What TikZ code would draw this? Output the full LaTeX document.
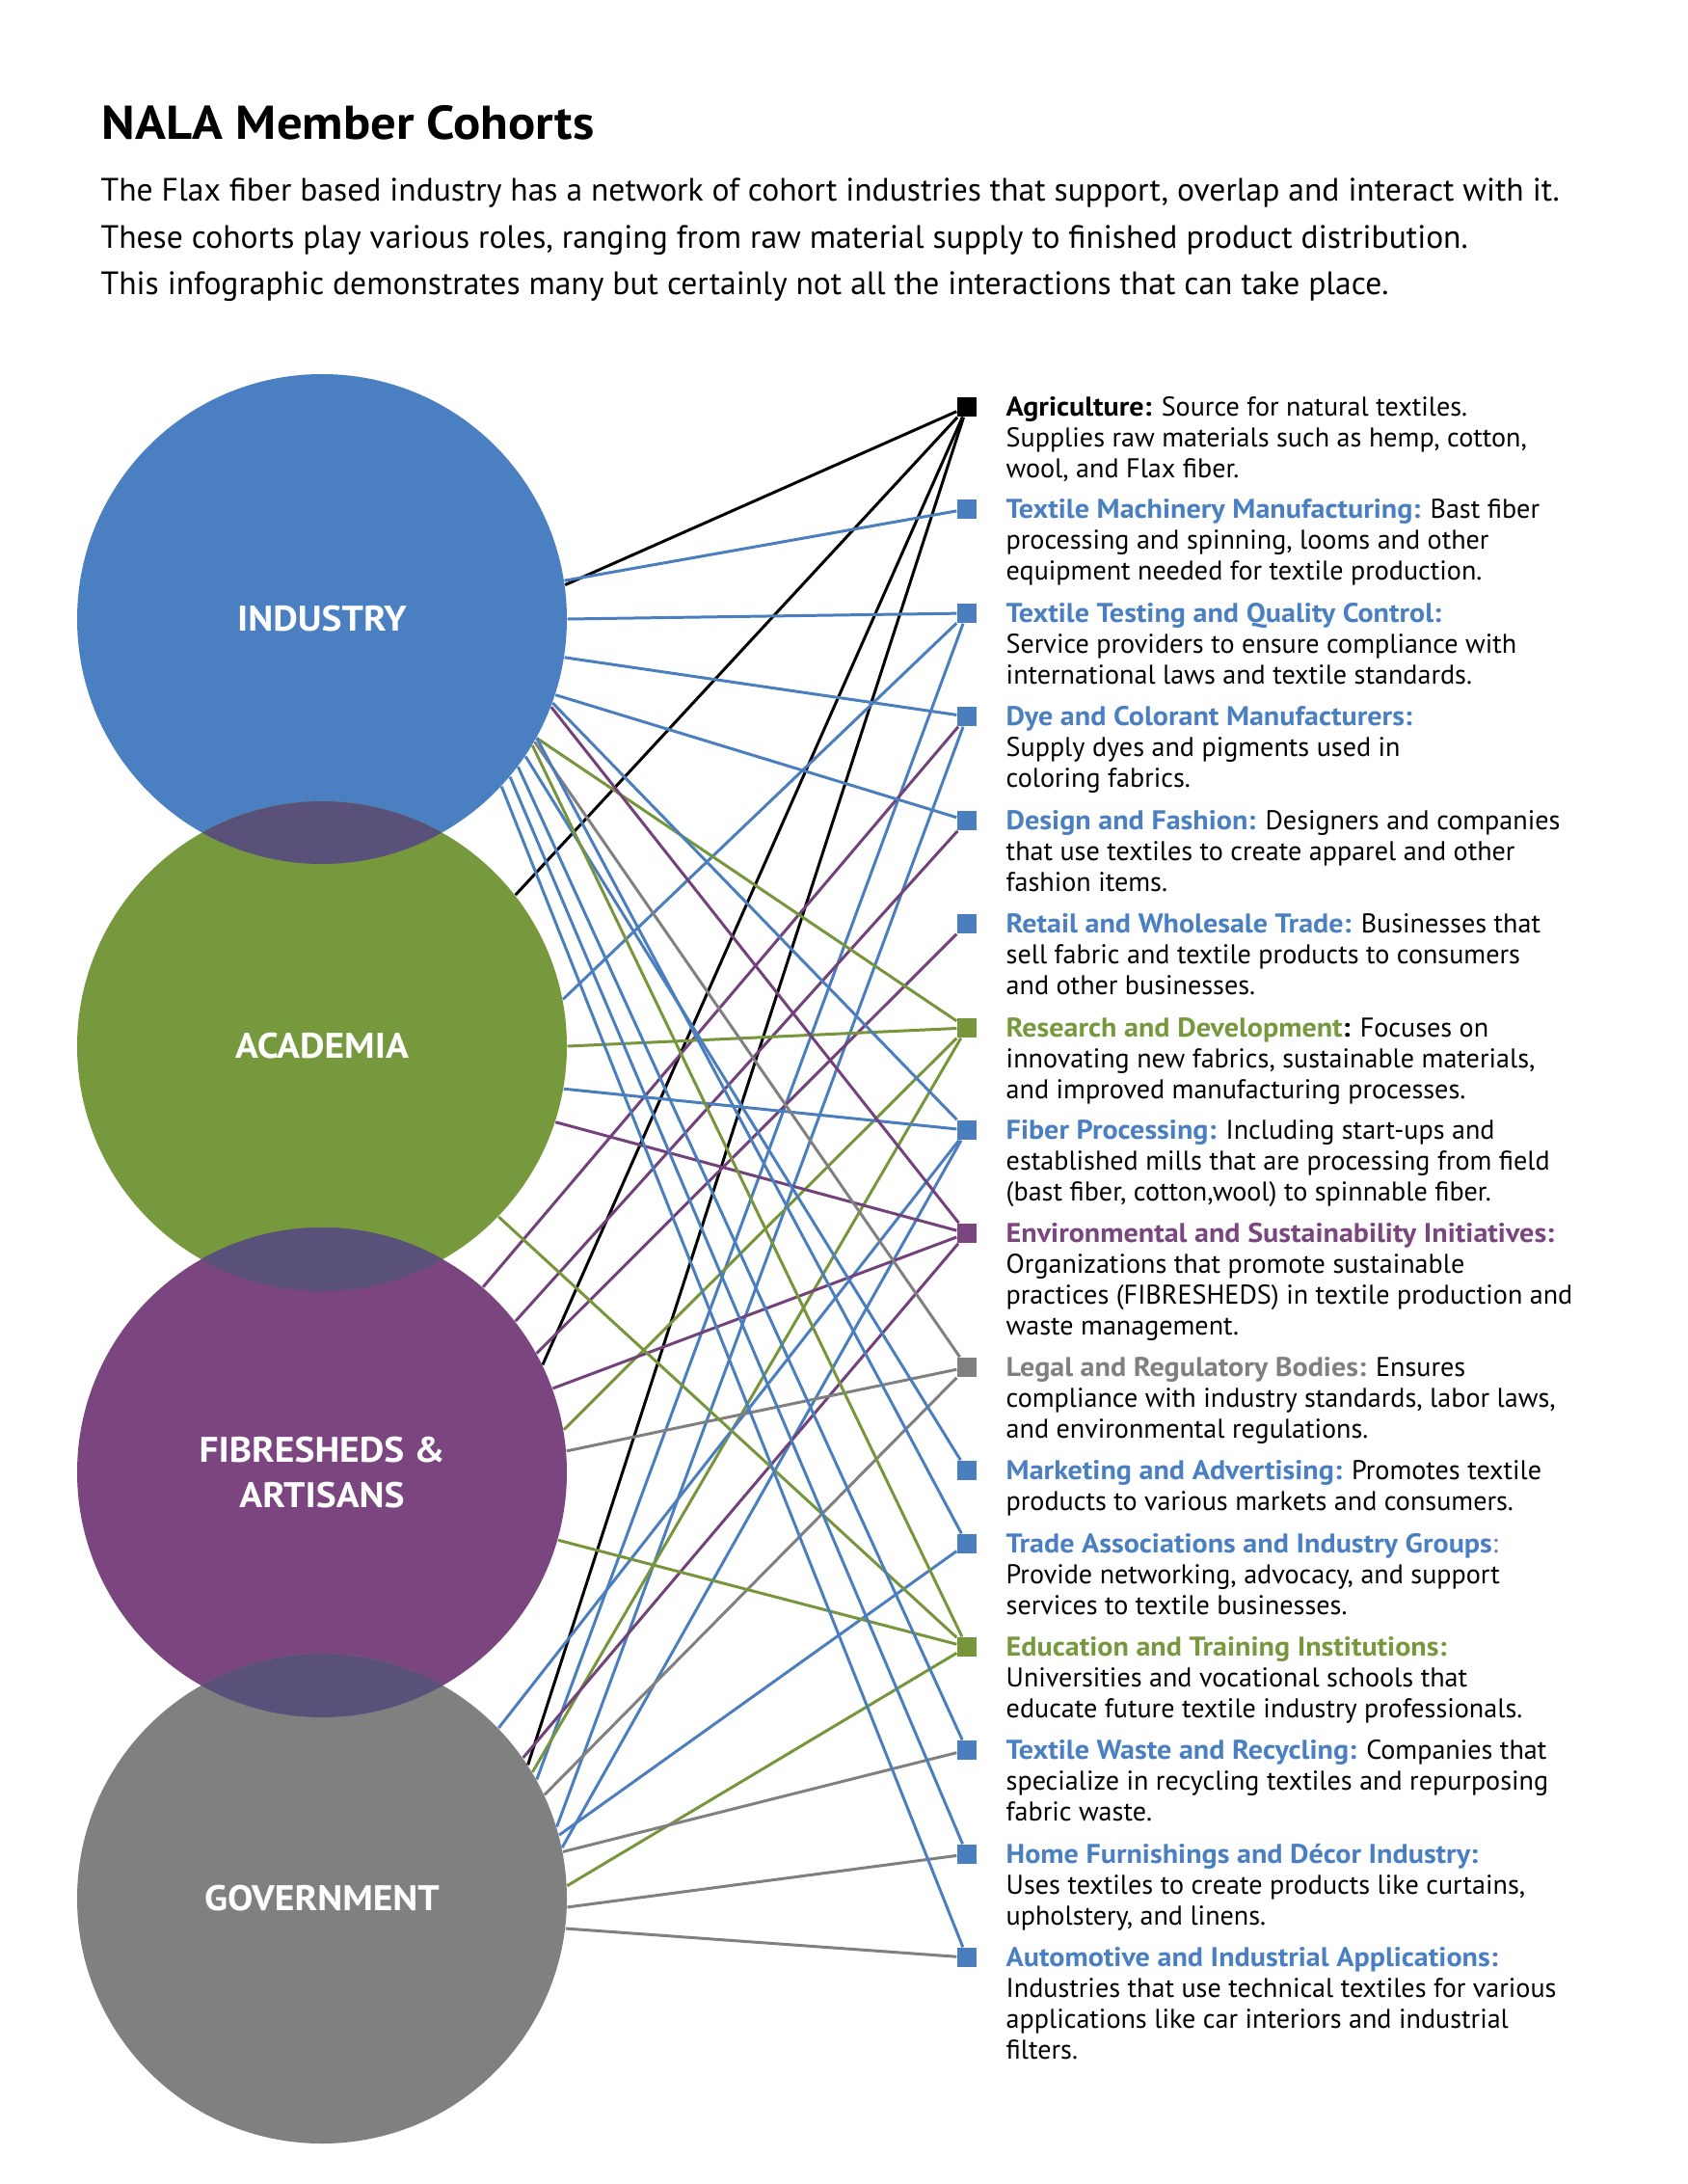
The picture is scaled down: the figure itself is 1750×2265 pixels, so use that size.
\documentclass[tikz,border=0pt]{standalone}
\usepackage{fontspec}
\setmainfont{PT Sans}[BoldFeatures={FakeStretch=1.07}]
\definecolor{indblue}{RGB}{74,127,193}
\definecolor{acagreen}{RGB}{119,153,61}
\definecolor{fshpurple}{RGB}{123,70,128}
\definecolor{govgray}{RGB}{128,128,128}
\definecolor{lenscol}{RGB}{90,81,122}
\definecolor{lnblue}{RGB}{74,126,190}
\definecolor{lngreen}{RGB}{119,150,60}
\definecolor{lnpurple}{RGB}{115,66,122}

\tikzset{
  cohort/.style={circle, minimum size=50.8mm, inner sep=0pt, text=white,
    font=\bfseries\fontsize{10.5}{13.6}\selectfont, align=center},
  sq/.style={rectangle, minimum size=2mm, inner sep=0pt},
  item/.style={anchor=north west, inner sep=0pt, align=left,
    font=\fontsize{8}{9.05}\selectfont},
  lnk/.style={line width=0.85pt},
}

\begin{document}
\begin{tikzpicture}[x=0.1mm,y=-0.1mm]
           \fill[white] (0,0) rectangle (1750,2265);
           \useasboundingbox (0,0) rectangle (1750,2265);

           \node[anchor=base west, inner sep=0pt, font=\bfseries\fontsize{14}{16}\selectfont] (head) at (105,145) {NALA Member Cohorts};
           \node[anchor=north west, inner sep=0pt, align=left, font=\fontsize{9.55}{13.8}\selectfont] (blurb) at (104,174) {\strut The Flax fiber based industry has a network of cohort industries that support, overlap and interact with it.\\
             These cohorts play various roles, ranging from raw material supply to finished product distribution.\\
             This infographic demonstrates many but certainly not all the interactions that can take place.};

           \node[cohort, fill=indblue] (ind) at (334,642) {INDUSTRY};
           \node[cohort, fill=acagreen] (aca) at (334,1085) {ACADEMIA};
           \node[cohort, fill=fshpurple] (fsh) at (334,1527) {FIBRESHEDS \&\\ARTISANS};
           \node[cohort, fill=govgray] (gov) at (334,1969) {GOVERNMENT};

           \begin{scope}
             \clip (ind.center) circle[radius=254];
             \fill[lenscol] (aca.center) circle[radius=254];
           \end{scope}
           \begin{scope}
             \clip (aca.center) circle[radius=254];
             \fill[lenscol] (fsh.center) circle[radius=254];
           \end{scope}
           \begin{scope}
             \clip (fsh.center) circle[radius=254];
             \fill[lenscol] (gov.center) circle[radius=254];
           \end{scope}

           \node[sq, fill=black] (agr) at (1003,422) {};
           \node[sq, fill=lnblue] (mach) at (1003,528) {};
           \node[sq, fill=lnblue] (test) at (1003,636) {};
           \node[sq, fill=lnblue] (dye) at (1003,743) {};
           \node[sq, fill=lnblue] (design) at (1003,851) {};
           \node[sq, fill=lnblue] (retail) at (1003,958) {};
           \node[sq, fill=lngreen] (rnd) at (1003,1066) {};
           \node[sq, fill=lnblue] (fiber) at (1003,1172) {};
           \node[sq, fill=fshpurple] (env) at (1003,1279) {};
           \node[sq, fill=govgray] (legal) at (1003,1418) {};
           \node[sq, fill=lnblue] (mkt) at (1003,1525) {};
           \node[sq, fill=lnblue] (trade) at (1003,1601) {};
           \node[sq, fill=lngreen] (edu) at (1003,1708) {};
           \node[sq, fill=lnblue] (waste) at (1003,1815) {};
           \node[sq, fill=lnblue] (home) at (1003,1923) {};
           \node[sq, fill=lnblue] (auto) at (1003,2030) {};

           \node[item] (tagr) at (1043,409) {\strut\textbf{Agriculture:} Source for natural textiles.\\Supplies raw materials such as hemp, cotton,\\wool, and Flax fiber.};
           \node[item] (tmach) at (1043,515) {\strut\textcolor{indblue}{\textbf{Textile Machinery Manufacturing:}} Bast fiber\\processing and spinning, looms and other\\equipment needed for textile production.};
           \node[item] (ttest) at (1043,623) {\strut\textcolor{indblue}{\textbf{Textile Testing and Quality Control:}}\\Service providers to ensure compliance with\\international laws and textile standards.};
           \node[item] (tdye) at (1043,730) {\strut\textcolor{indblue}{\textbf{Dye and Colorant Manufacturers:}}\\Supply dyes and pigments used in\\coloring fabrics.};
           \node[item] (tdesign) at (1043,838) {\strut\textcolor{indblue}{\textbf{Design and Fashion:}} Designers and companies\\that use textiles to create apparel and other\\fashion items.};
           \node[item] (tretail) at (1043,945) {\strut\textcolor{indblue}{\textbf{Retail and Wholesale Trade:}} Businesses that\\sell fabric and textile products to consumers\\and other businesses.};
           \node[item] (trnd) at (1043,1053) {\strut\textcolor{acagreen}{\textbf{Research and Development}}\textbf{:} Focuses on\\innovating new fabrics, sustainable materials,\\and improved manufacturing processes.};
           \node[item] (tfiber) at (1043,1159) {\strut\textcolor{indblue}{\textbf{Fiber Processing:}} Including start-ups and\\established mills that are processing from field\\(bast fiber, cotton,wool) to spinnable fiber.};
           \node[item] (tenv) at (1043,1266) {\strut\textcolor{fshpurple}{\textbf{Environmental and Sustainability Initiatives:}}\\Organizations that promote sustainable\\practices (FIBRESHEDS) in textile production and\\waste management.};
           \node[item] (tlegal) at (1043,1405) {\strut\textcolor{govgray}{\textbf{Legal and Regulatory Bodies:}} Ensures\\compliance with industry standards, labor laws,\\and environmental regulations.};
           \node[item] (tmkt) at (1043,1512) {\strut\textcolor{indblue}{\textbf{Marketing and Advertising:}} Promotes textile\\products to various markets and consumers.};
           \node[item] (ttrade) at (1043,1588) {\strut\textcolor{indblue}{\textbf{Trade Associations and Industry Groups}:}\\Provide networking, advocacy, and support\\services to textile businesses.};
           \node[item] (tedu) at (1043,1695) {\strut\textcolor{acagreen}{\textbf{Education and Training Institutions:}}\\Universities and vocational schools that\\educate future textile industry professionals.};
           \node[item] (twaste) at (1043,1802) {\strut\textcolor{indblue}{\textbf{Textile Waste and Recycling:}} Companies that\\specialize in recycling textiles and repurposing\\fabric waste.};
           \node[item] (thome) at (1043,1910) {\strut\textcolor{indblue}{\textbf{Home Furnishings and Décor Industry:}}\\Uses textiles to create products like curtains,\\upholstery, and linens.};
           \node[item] (tauto) at (1043,2017) {\strut\textcolor{indblue}{\textbf{Automotive and Industrial Applications:}}\\Industries that use technical textiles for various\\applications like car interiors and industrial\\filters.};

           \draw[lnk,black] (ind.8) edge (agr);
           \draw[lnk,black] (aca.38) edge (agr);
           \draw[lnk,black] (fsh.26) edge (agr);
           \draw[lnk,black] (gov.33) edge (agr);

           \draw[lnk,lnblue] (ind.9) edge (mach);
           \draw[lnk,lnblue] (ind.0) edge (test);
           \draw[lnk,lnblue] (aca.11) edge (test);
           \draw[lnk,lnblue] (gov.29) edge (test);
           \draw[lnk,lnblue] (ind.-9) edge (dye);
           \draw[lnk,lnpurple] (fsh.49) edge (dye);
           \draw[lnk,lnblue] (gov.17) edge (dye);
           \draw[lnk,lnblue] (ind.-18) edge (design);
           \draw[lnk,lnpurple] (fsh.38) edge (design);
           \draw[lnk,lnpurple] (fsh.29) edge (retail);

           \draw[lnk,lngreen] (ind.-29) edge (rnd);
           \draw[lnk,lngreen] (aca.0) edge (rnd);
           \draw[lnk,lngreen] (fsh.10) edge (rnd);
           \draw[lnk,lngreen] (gov.31) edge (rnd);

           \draw[lnk,lnblue] (ind.-20) edge (fiber);
           \draw[lnk,lnblue] (aca.-10) edge (fiber);
           \draw[lnk,lnblue] (gov.44) edge (fiber);
           \draw[lnk,lnblue] (gov.12) edge (fiber);

           \draw[lnk,lnpurple] (ind.-21) edge (env);
           \draw[lnk,lnpurple] (aca.-18) edge (env);
           \draw[lnk,lnpurple] (fsh.20) edge (env);
           \draw[lnk,lnpurple] (gov.35) edge (env);

           \draw[lnk,govgray] (ind.-30) edge (legal);
           \draw[lnk,govgray] (fsh.5) edge (legal);
           \draw[lnk,govgray] (gov.25) edge (legal);

           \draw[lnk,lnblue] (ind.-34) edge (mkt);
           \draw[lnk,lnblue] (ind.-29) edge (trade);
           \draw[lnk,lnblue] (gov.15) edge (trade);

           \draw[lnk,lngreen] (ind.-31) edge (edu);
           \draw[lnk,lngreen] (aca.-44) edge (edu);
           \draw[lnk,lngreen] (fsh.-16) edge (edu);
           \draw[lnk,lngreen] (gov.3) edge (edu);

           \draw[lnk,lnblue] (ind.-37) edge (waste);
           \draw[lnk,govgray] (gov.11) edge (waste);
           \draw[lnk,lnblue] (ind.-40) edge (home);
           \draw[lnk,govgray] (gov.-2) edge (home);
           \draw[lnk,lnblue] (ind.-43) edge (auto);
           \draw[lnk,govgray] (gov.-7) edge (auto);
         \end{tikzpicture}
\end{document}
